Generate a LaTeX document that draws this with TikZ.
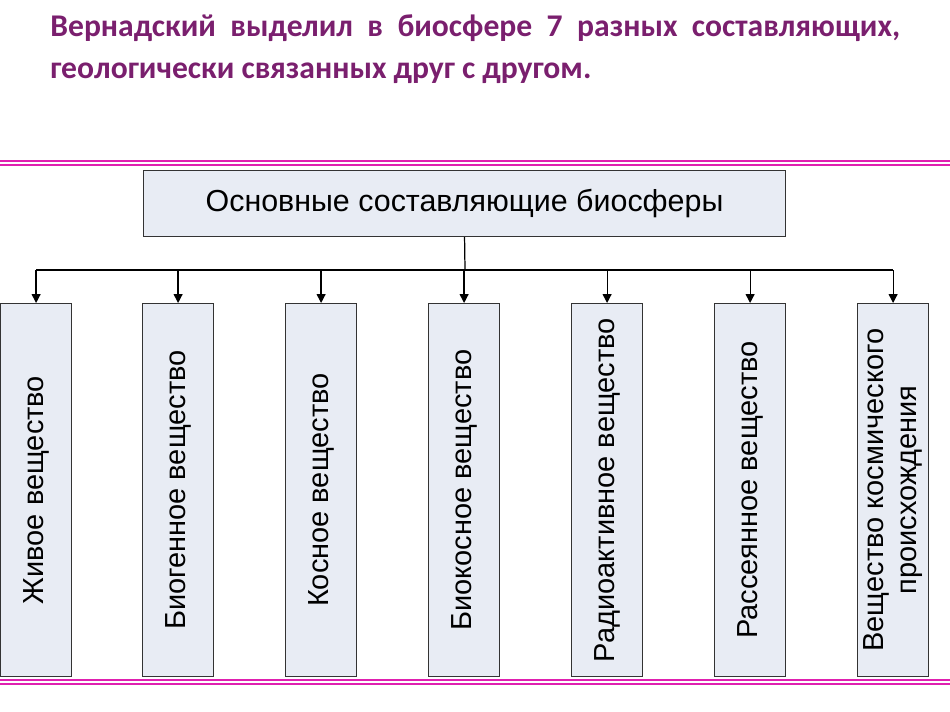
\documentclass[tikz,border=0pt]{standalone}
\usepackage{fontspec}
\setmainfont{Liberation Sans}
\newfontfamily\titlefont{Carlito}
\usetikzlibrary{arrows.meta}
\definecolor{titlecol}{HTML}{7A1F6E}
\definecolor{boxfill}{HTML}{E8ECF4}
\definecolor{rulecol}{HTML}{E020B0}
\tikzset{
  part/.style={draw=black!80, fill=boxfill, line width=0.7pt, minimum width=1.42cm, minimum height=7.46cm, anchor=north west},
  parttext/.style={rotate=90, font=\fontsize{16.5}{19}\selectfont, align=center},
  feed/.style={-{Triangle[length=5pt,width=5pt]}, line width=0.7pt}
}
\begin{document}
\begin{tikzpicture}[x=0.02cm, y=-0.02cm]
    \useasboundingbox (0,0) rectangle (950,711);

    \node[anchor=north west, text width=17cm, align=justify, inner sep=0pt, text=titlecol,
      font=\titlefont\bfseries\fontsize{18}{24}\selectfont] (title) at (50,14)
      {Вернадский выделил в биосфере 7 разных составляющих,\linebreak геологически связанных друг с другом.};

    % rules
    \foreach \y in {161,165,680,684}
      \draw[rulecol, line width=1.3pt] (0,\y) -- (950,\y);

    \node[draw=black!80, fill=boxfill, line width=0.7pt, minimum width=12.84cm, minimum height=1.32cm,
      anchor=north west, font=\fontsize{17.3}{20}\selectfont] (main) at (143,170) {Основные составляющие биосферы};

    \node[part] (p1) at (0,303) {};
    \node[part] (p2) at (142,303) {};
    \node[part] (p3) at (285,303) {};
    \node[part] (p4) at (428,303) {};
    \node[part] (p5) at (571,303) {};
    \node[part] (p6) at (714,303) {};
    \node[part] (p7) at (857,303) {};

    \node[parttext] at (p1) {Живое вещество};
    \node[parttext] at (p2) {Биогенное вещество};
    \node[parttext] at (p3) {Косное вещество};
    \node[parttext] at (p4) {Биокосное вещество};
    \node[parttext] at (p5) {Радиоактивное вещество};
    \node[parttext] at (p6) {Рассеянное вещество};
    \node[parttext] at (p7) {Вещество космического\\происхождения};

    \coordinate (bus) at (465,270);
    \draw[line width=0.7pt] (main.south) -- (bus);
    \draw[line width=0.7pt] (p1.north |- bus) -- (p7.north |- bus);
    \foreach \p in {p1,p2,p3,p4,p5,p6,p7}
      \draw[feed] (\p.north |- bus) -- (\p.north);
\end{tikzpicture}
\end{document}
